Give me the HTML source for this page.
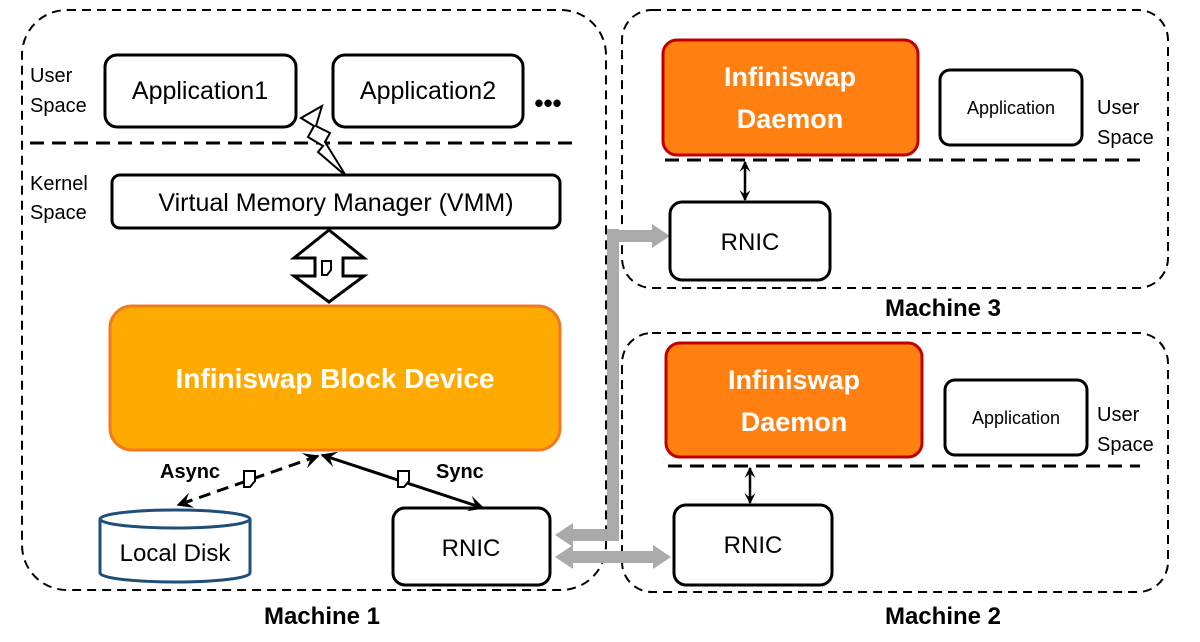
<!DOCTYPE html>
<html><head><meta charset="utf-8"><style>body{margin:0;background:#fff}svg{display:block}text{font-family:"Liberation Sans",sans-serif}</style></head><body>
<svg width="1200" height="642" viewBox="0 0 1200 642" xmlns="http://www.w3.org/2000/svg">
<defs>
<marker id="ah" viewBox="0 0 10 10" refX="9" refY="5" markerWidth="16" markerHeight="16" markerUnits="userSpaceOnUse" orient="auto-start-reverse"><path d="M0,0 L10,5 L0,10 L4,5 Z" fill="#000"/></marker>
<marker id="as" viewBox="0 0 10 10" refX="9" refY="5" markerWidth="11" markerHeight="11" markerUnits="userSpaceOnUse" orient="auto-start-reverse"><path d="M0,0 L10,5 L0,10 L4,5 Z" fill="#000"/></marker>
</defs>
<g fill="none" stroke="#000" stroke-width="2" stroke-dasharray="9,6">
<rect x="22" y="10" width="584" height="580" rx="45"/>
<rect x="622" y="10" width="546" height="278" rx="30"/>
<rect x="622" y="333" width="546" height="259" rx="30"/>
</g>
<g fill="#aaa" stroke="none">
<rect x="607" y="229" width="12" height="312"/>
<rect x="607" y="230" width="48" height="12"/>
<polygon points="652,224 670,236 652,248"/>
<rect x="570" y="529" width="49" height="12"/>
<polygon points="573,523 555,535 573,547"/>
<rect x="570" y="551" width="86" height="12"/>
<polygon points="573,545 555,557 573,569"/>
<polygon points="653,545 671,557 653,569"/>
</g>
<g fill="none" stroke="#000" stroke-width="3">
<rect x="105" y="55" width="191" height="72" rx="12"/>
<rect x="333" y="55" width="190" height="72" rx="12"/>
<rect x="112" y="175" width="448" height="53" rx="8"/>
<rect x="393" y="508" width="157" height="77" rx="12"/>
<rect x="670" y="202" width="160" height="78" rx="12"/>
<rect x="674" y="505" width="158" height="80" rx="12"/>
<rect x="940" y="70" width="142" height="75" rx="10"/>
<rect x="945" y="380" width="142" height="75" rx="10"/>
</g>
<g stroke="#000" stroke-width="3" stroke-dasharray="14,8">
<line x1="30" y1="143" x2="572" y2="143"/>
<line x1="665" y1="160" x2="1140" y2="160"/>
<line x1="668" y1="466" x2="1140" y2="466"/>
</g>
<text x="30" y="82" font-size="20">User</text>
<text x="30" y="112" font-size="20">Space</text>
<text x="30" y="190" font-size="20">Kernel</text>
<text x="30" y="219" font-size="20">Space</text>
<text x="200" y="99" font-size="25" text-anchor="middle">Application1</text>
<text x="428" y="99" font-size="25" text-anchor="middle">Application2</text>
<text x="548" y="112" font-size="26" font-weight="bold" text-anchor="middle">•••</text>
<text x="336" y="211" font-size="25" text-anchor="middle">Virtual Memory Manager (VMM)</text>
<polygon points="301,118 322,106 316,126 330,133 325,142 346,176 318,152 323,146 308,137 314,126" fill="#fff" stroke="#000" stroke-width="2"/>
<polygon points="329,230 364,258 343,258 343,276 364,276 329,302 294,276 315,276 315,258 294,258" fill="#fff" stroke="#000" stroke-width="3"/>
<path d="M322,261 h9 v9 l-4,5 h-5 z" fill="#fff" stroke="#000" stroke-width="2"/>
<rect x="110" y="306" width="450" height="144" rx="22" fill="#FFAA00" stroke="#F07A20" stroke-width="3"/>
<text x="335" y="388" font-size="28" font-weight="bold" fill="#fff" text-anchor="middle">Infiniswap Block Device</text>
<line x1="318" y1="456" x2="178" y2="505" stroke="#000" stroke-width="3" stroke-dasharray="12,7" marker-start="url(#ah)" marker-end="url(#ah)"/>
<line x1="322" y1="455" x2="483" y2="508" stroke="#000" stroke-width="3" marker-start="url(#ah)" marker-end="url(#ah)"/>
<path d="M244,471 h11 v10 l-5,6 h-6 z" fill="#fff" stroke="#000" stroke-width="2"/>
<path d="M398,471 h11 v10 l-5,6 h-6 z" fill="#fff" stroke="#000" stroke-width="2"/>
<text x="160" y="478" font-size="20" font-weight="bold">Async</text>
<text x="436" y="478" font-size="20" font-weight="bold">Sync</text>
<path d="M100,519 v54 a75,9 0 0 0 150,0 v-54" fill="#fff" stroke="#1F4E79" stroke-width="3"/>
<ellipse cx="175" cy="519" rx="75" ry="9" fill="#fff" stroke="#1F4E79" stroke-width="3"/>
<text x="175" y="561" font-size="24" text-anchor="middle">Local Disk</text>
<text x="471" y="556" font-size="24" text-anchor="middle">RNIC</text>
<text x="750" y="250" font-size="24" text-anchor="middle">RNIC</text>
<text x="753" y="553" font-size="24" text-anchor="middle">RNIC</text>
<rect x="663" y="40" width="255" height="115" rx="14" fill="#FF7F10" stroke="#C00000" stroke-width="3"/>
<text x="790" y="86" font-size="27" font-weight="bold" fill="#fff" text-anchor="middle">Infiniswap</text>
<text x="790" y="128" font-size="27" font-weight="bold" fill="#fff" text-anchor="middle">Daemon</text>
<rect x="666" y="343" width="256" height="114" rx="14" fill="#FF7F10" stroke="#C00000" stroke-width="3"/>
<text x="794" y="389" font-size="27" font-weight="bold" fill="#fff" text-anchor="middle">Infiniswap</text>
<text x="794" y="431" font-size="27" font-weight="bold" fill="#fff" text-anchor="middle">Daemon</text>
<text x="1011" y="114" font-size="18" text-anchor="middle">Application</text>
<text x="1016" y="424" font-size="18" text-anchor="middle">Application</text>
<text x="1097" y="114" font-size="20">User</text>
<text x="1097" y="144" font-size="20">Space</text>
<text x="1097" y="421" font-size="20">User</text>
<text x="1097" y="451" font-size="20">Space</text>
<line x1="745" y1="162" x2="745" y2="200" stroke="#000" stroke-width="2.5" marker-start="url(#as)" marker-end="url(#as)"/>
<line x1="750" y1="468" x2="750" y2="503" stroke="#000" stroke-width="2.5" marker-start="url(#as)" marker-end="url(#as)"/>
<text x="322" y="624" font-size="24" font-weight="bold" text-anchor="middle">Machine 1</text>
<text x="943" y="316" font-size="24" font-weight="bold" text-anchor="middle">Machine 3</text>
<text x="943" y="624" font-size="24" font-weight="bold" text-anchor="middle">Machine 2</text>
</svg>
</body></html>
